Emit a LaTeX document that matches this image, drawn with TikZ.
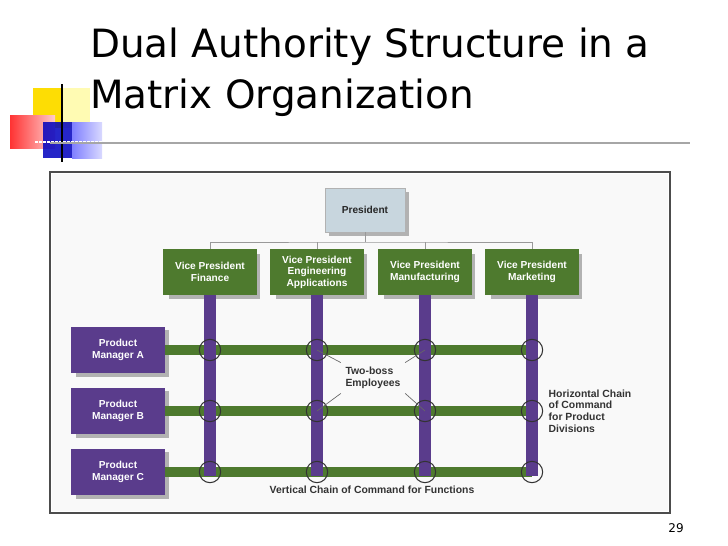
\documentclass[tikz,border=0pt]{standalone}
\usepackage{fontspec}
\setmainfont{DejaVu Sans}
\newfontfamily\dg{Liberation Sans}
\begin{document}
\begin{tikzpicture}[x=0.75pt,y=-0.75pt,
 box/.style={minimum width=70pt,minimum height=34pt,align=center,text=white,font=\dg\bfseries\fontsize{7.6}{8.6}\selectfont,inner sep=1pt},
 vp/.style={box,fill=vgreen},
 pm/.style={box,fill=vpurple},
 vbar/.style={line width=9pt,draw=vpurple},
 hbar/.style={line width=7.5pt,draw=vgreen},
 ring/.style={circle,draw=black!80,line width=0.8pt,minimum size=16pt,inner sep=0pt},
 lbl/.style={font=\dg\bfseries\fontsize{7.8}{8.8}\selectfont,text=black!80},
 pointer/.style={draw=black!60,line width=0.5pt}]
\definecolor{vgreen}{HTML}{4E7A2E}
\definecolor{vpurple}{HTML}{5A3C8C}
\definecolor{pres}{HTML}{C8D6DE}
\useasboundingbox (0,0) rectangle (728,546);
\fill[white] (0,0) rectangle (728,546);
% decoration
\fill[yellow!80!orange] (33,88) rectangle (90,128);
\fill[yellow!30] (62,88) rectangle (90,128);
\shade[left color=red!80,right color=red!20] (10,115) rectangle (55,148);
\fill[blue!75!black,opacity=0.85] (43,122) rectangle (72,158);
\shade[left color=blue!50,right color=blue!15] (72,122) rectangle (102,158);
\draw[white,line width=1.2pt,dash pattern=on 2pt off 1pt] (35,142) -- (102,142);
\draw[black,line width=1.5pt] (62,84) -- (62,162);
% title
\node[anchor=base west,font=\fontsize{29.2}{35}\selectfont,inner sep=0] (t1) at (90,57) {Dual Authority Structure in a};
\node[anchor=base west,font=\fontsize{29.2}{35}\selectfont,inner sep=0] (t2) at (90,108) {Matrix Organization};
\draw[gray!70,line width=1pt] (50,143) -- (690,143);
\node[font=\fontsize{9}{10}\selectfont] (pg) at (676,528) {29};
% frame
\draw[black!70,line width=0.8pt] (50,172) rectangle (670,513);
\fill[gray!5] (52,174) rectangle (668,511);
% president
\fill[gray!60] (329,192) rectangle (409,236);
\node[box,fill=pres,draw=gray!60,text=black!85,minimum width=60pt,minimum height=33pt] (p) at (365,210) {President};
% vps
\foreach \n/\x/\t in {a/210/{Vice President\\Finance},b/317/{Vice President\\Engineering\\Applications},c/425/{Vice President\\Manufacturing},d/532/{Vice President\\Marketing}}{
 \fill[gray!60] (\x-41,254) rectangle (\x+50,299);
 \node[vp] (v\n) at (\x,272) {\t};
}
\draw[gray!80,line width=0.7pt] (p.south) -- (365,242) (va.north) |- (365,242) -- (vd.north |- 0,242) -- (vd.north) (vb.north) -- (vb.north |- 0,242) (vc.north) -- (vc.north |- 0,242);
% pms
\foreach \n/\y/\l in {a/350/A,b/411/B,c/472/C}{
 \fill[gray!60] (76,\y-20) rectangle (169,\y+27);
 \node[pm,minimum width=70pt,minimum height=35pt] (m\n) at (118,\y) {Product\\Manager \l};
 \coordinate (e\n) at (532,\y);
}
% bars
\foreach \n in {a,b,c,d}{\draw[vbar] (v\n.south) -- (v\n.south |- 0,476);}
\foreach \n in {a,b,c}{\draw[hbar] (m\n.east) -- (e\n);}
\foreach \n in {a,b,c,d}{\draw[vbar] (v\n.south |- 0,345) -- (v\n.south |- 0,355) (v\n.south |- 0,406) -- (v\n.south |- 0,416) (v\n.south |- 0,467) -- (v\n.south |- 0,476);}
\foreach \n in {a,b,c,d}{\foreach \m/\y in {a/350,b/411,c/472}{\node[ring] (r\n\m) at (v\n.south |- 0,\y) {};}}
% labels
\node[lbl,align=left] (two) at (373,378) {Two-boss\\Employees};
\draw[pointer] (two.north west) -- (rba.center) (two.north east) -- (rca.center) (two.south west) -- (rbb.center) (two.south east) -- (rcb.center);
\node[lbl,align=left,anchor=north west] (hc) at (544,385) {Horizontal Chain\\of Command\\for Product\\Divisions};
\node[lbl] (vc) at (372,490) {Vertical Chain of Command for Functions};
\end{tikzpicture}
\end{document}
